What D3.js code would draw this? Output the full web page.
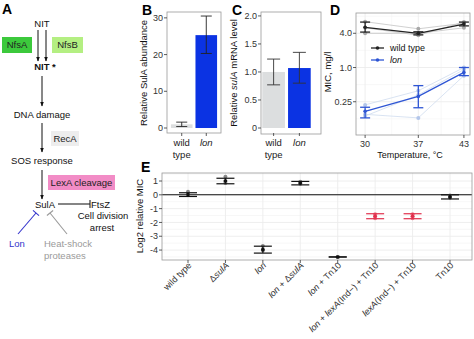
<!DOCTYPE html>
<html>
<head>
<meta charset="utf-8">
<script src="https://d3js.org/d3.v7.min.js"></script>
<style>
body { margin: 0; background: #fff; }
text { font-family: "Liberation Sans", Arial, Helvetica, sans-serif; }
</style>
</head>
<body>
<script>
// --- B: SulA protein abundance
var sulaGroups = ["wild type", "lon"];
var sulaAbundance = [1.0, 25.3];
var sulaLow = [0.4, 20.3];
var sulaHigh = [1.6, 30.5];
var sulaTicks = [0, 10, 20, 30];

// --- C: sulA mRNA level
var mrnaLevel = [1.0, 1.07];
var mrnaLow = [0.77, 0.8];
var mrnaHigh = [1.23, 1.35];
var mrnaTicks = [0, 0.5, 1.0, 1.5, 2.0];
var mrnaTickLabels = ["0", "0.5", "1.0", "1.5", "2.0"];

// --- D: MIC vs temperature
var temps = [30, 37, 43];
var wtMean = [5.1, 4.0, 5.8];
var wtLow = [4.2, 3.75, 5.4];
var wtHigh = [6.3, 4.25, 6.3];
var wtReps = [[6.4, 4.8, 6.0], [4.0, 4.0, 5.0], [5.0, 3.7, 6.3]];
var lonMean = [0.17, 0.31, 0.82];
var lonLow = [0.13, 0.196, 0.72];
var lonHigh = [0.2, 0.48, 1.0];
var lonReps = [[0.22, 0.39, 1.0], [0.14, 0.33, 0.92], [0.15, 0.13, 0.72]];
var micTicks = [0.25, 1, 4];
var micTickLabels = ["0.25", "1.0", "4.0"];

// --- E: log2 relative MIC per strain
var strains = ["wild type", "\u0394sulA", "lon", "lon + \u0394sulA", "lon + Tn10",
  "lon + lexA(Ind\u2212) + Tn10", "lexA(Ind\u2212) + Tn10", "Tn10"];
var log2Mic = [0.02, 1.0, -3.97, 0.85, -4.5, -1.55, -1.55, -0.15];
var log2Low = [-0.12, 0.8, -4.22, 0.72, -4.5, -1.73, -1.73, -0.3];
var log2High = [0.15, 1.2, -3.72, 0.97, -4.5, -1.37, -1.37, 0.0];
var log2Reps = [[0.22, 0.0, 0.0], [1.3, 1.0, 0.85], [-3.7, -4.0, -4.0], [0.95, 0.8, 0.85],
  [-4.5, -4.5, -4.5], [-1.4, -1.55, -1.7], [-1.4, -1.55, -1.7], [-0.05, -0.2, -0.2]];
var sosStrain = [false, false, false, false, false, true, true, false];
var log2Ticks = [-4, -3, -2, -1, 0, 1];

var svg = d3.select("body").append("svg")
  .attr("width", 474)
  .attr("height", 339);

var tickCol = "#333";
var borderCol = "#9a9a9a";
var gridCol = "#ececec";
var blue = "#0b33e3";

svg.append("defs").append("marker")
  .attr("id", "arrow")
  .attr("viewBox", "0 0 10 10")
  .attr("refX", 9).attr("refY", 5)
  .attr("markerWidth", 5).attr("markerHeight", 5)
  .attr("orient", "auto")
  .append("path").attr("d", "M0,1 L10,5 L0,9 Z").attr("fill", "#111");

function panelLabel(txt, x, y) {
  svg.append("text").attr("x", x).attr("y", y)
    .attr("font-size", "14px").attr("font-weight", "700").text(txt);
}

// italic gene names inside labels
function richText(sel, str) {
  str.split(/(lon|sulA|lexA)/).forEach(function(part) {
    if (!part) return;
    var t = sel.append("tspan").text(part);
    if (/^(lon|sulA|lexA)$/.test(part)) t.attr("font-style", "italic");
  });
}

function yTitle(x, y, parts) {
  var t = svg.append("text")
    .attr("transform", `translate(${x},${y}) rotate(-90)`)
    .attr("text-anchor", "middle")
    .attr("font-size", "9.5px")
    .attr("fill", "#111");
  parts.forEach(function(p) {
    var s = t.append("tspan").text(p[0]);
    if (p[1]) s.attr("font-style", "italic");
  });
}

function yAxis(scale, x, ticks, labels) {
  var g = svg.append("g");
  ticks.forEach(function(v, i) {
    var y = scale(v);
    g.append("line").attr("x1", x - 3).attr("x2", x).attr("y1", y).attr("y2", y)
      .attr("stroke", tickCol).attr("stroke-width", 0.8);
    g.append("text").attr("x", x - 4).attr("y", y + 3.2)
      .attr("text-anchor", "end").attr("font-size", "9px").attr("fill", tickCol)
      .text(labels ? labels[i] : String(v));
  });
}

function errorBar(g, x, lo, hi, half, color, w) {
  g.append("line").attr("x1", x).attr("x2", x).attr("y1", lo).attr("y2", hi)
    .attr("stroke", color).attr("stroke-width", w || 1);
  [lo, hi].forEach(function(y) {
    g.append("line").attr("x1", x - half).attr("x2", x + half).attr("y1", y).attr("y2", y)
      .attr("stroke", color).attr("stroke-width", w || 1);
  });
}

// ================= A: pathway diagram
panelLabel("A", 2, 14);
var gA = svg.append("g").attr("font-size", "9.5px");

function box(x, y, w, h, fill, label) {
  gA.append("rect").attr("x", x).attr("y", y).attr("width", w).attr("height", h).attr("fill", fill);
  gA.append("text").attr("x", x + w / 2).attr("y", y + h / 2 + 3.3)
    .attr("text-anchor", "middle").attr("fill", "#222").text(label);
}
function arrow(x, y1, y2) {
  gA.append("line").attr("x1", x).attr("x2", x).attr("y1", y1).attr("y2", y2)
    .attr("stroke", "#111").attr("stroke-width", 1).attr("marker-end", "url(#arrow)");
}
function label(x, y, txt, opts) {
  opts = opts || {};
  return gA.append("text").attr("x", x).attr("y", y)
    .attr("text-anchor", opts.anchor || "middle")
    .attr("font-weight", opts.bold ? "700" : "400")
    .attr("fill", opts.color || "#111").text(txt);
}
function inhibit(x1, y1, x2, y2, color) {
  gA.append("line").attr("x1", x1).attr("y1", y1).attr("x2", x2).attr("y2", y2)
    .attr("stroke", color).attr("stroke-width", 1.1);
  var dx = x2 - x1, dy = y2 - y1, len = Math.sqrt(dx * dx + dy * dy);
  var px = -dy / len * 4, py = dx / len * 4;
  gA.append("line").attr("x1", x2 - px).attr("y1", y2 - py).attr("x2", x2 + px).attr("y2", y2 + py)
    .attr("stroke", color).attr("stroke-width", 1.1);
}

label(42, 27, "NIT");
box(2, 37, 30, 16, "#3cc93c", "NfsA");
box(52, 37, 31, 16, "#b4ef82", "NfsB");
arrow(38, 30, 61);
arrow(46, 30, 61);
label(45, 70, "NIT *", { bold: true });
arrow(42, 76, 106);
label(42, 118, "DNA damage");
arrow(42, 123, 152);
box(51, 131, 28, 15, "#ededed", "RecA");
label(42, 164, "SOS response");
arrow(42, 170, 199);
box(48, 175, 67, 15, "#f28cc6", "LexA cleavage");
label(45, 208, "SulA");
inhibit(58, 204, 90, 204, "#222");
label(91, 208, "FtsZ", { anchor: "start" });
label(103, 219, "Cell division");
label(102, 231, "arrest");
inhibit(18, 234, 36, 213, "#3333cc");
label(9, 247, "Lon", { anchor: "start", color: "#3333cc" });
inhibit(67, 234, 50, 213, "#9a9a9a");
label(44, 247, "Heat-shock", { anchor: "start", color: "#9a9a9a" });
label(44, 259, "proteases", { anchor: "start", color: "#9a9a9a" });

// ================= B: SulA abundance bars
panelLabel("B", 142, 15);
var xB = d3.scaleBand().domain(sulaGroups).range([167, 221]).paddingInner(0.12).paddingOuter(0.16);
var yB = d3.scaleLinear().domain([-1.36, 31.6]).range([133, 12]);
var gB = svg.append("g");
gB.selectAll("rect.bar").data(sulaGroups).enter().append("rect")
  .attr("class", "bar")
  .attr("x", d => xB(d))
  .attr("width", xB.bandwidth())
  .attr("y", (d, i) => yB(sulaAbundance[i]))
  .attr("height", (d, i) => yB(0) - yB(sulaAbundance[i]))
  .attr("fill", (d, i) => i === 0 ? "#dcdedf" : blue);
sulaGroups.forEach(function(d, i) {
  errorBar(gB, xB(d) + xB.bandwidth() / 2, yB(sulaLow[i]), yB(sulaHigh[i]), 5.5, "#222", 0.9);
});
gB.append("rect").attr("x", 167).attr("y", 12).attr("width", 54).attr("height", 121)
  .attr("fill", "none").attr("stroke", borderCol).attr("stroke-width", 0.8);
yAxis(yB, 167, sulaTicks);
yTitle(147, 73, [["Relative SulA abundance", false]]);

function barXLabels(scale, groups) {
  groups.forEach(function(d) {
    var x = scale(d) + scale.bandwidth() / 2;
    svg.append("line").attr("x1", x).attr("x2", x).attr("y1", 133).attr("y2", 136)
      .attr("stroke", tickCol).attr("stroke-width", 0.8);
    if (d === "wild type") {
      svg.append("text").attr("x", x).attr("y", 146).attr("text-anchor", "middle")
        .attr("font-size", "9.5px").attr("fill", "#222").text("wild");
      svg.append("text").attr("x", x).attr("y", 158).attr("text-anchor", "middle")
        .attr("font-size", "9.5px").attr("fill", "#222").text("type");
    } else {
      svg.append("text").attr("x", x).attr("y", 146).attr("text-anchor", "middle")
        .attr("font-size", "9.5px").attr("font-style", "italic").attr("fill", "#222").text(d);
    }
  });
}
barXLabels(xB, sulaGroups);

// ================= C: sulA mRNA bars
panelLabel("C", 232, 15);
var xC = d3.scaleBand().domain(sulaGroups).range([261, 312]).paddingInner(0.12).paddingOuter(0.05);
var yC = d3.scaleLinear().domain([-0.107, 2.07]).range([134, 12]);
var gC = svg.append("g");
gC.selectAll("rect.bar").data(sulaGroups).enter().append("rect")
  .attr("class", "bar")
  .attr("x", d => xC(d))
  .attr("width", xC.bandwidth())
  .attr("y", (d, i) => yC(mrnaLevel[i]))
  .attr("height", (d, i) => yC(0) - yC(mrnaLevel[i]))
  .attr("fill", (d, i) => i === 0 ? "#dcdedf" : blue);
sulaGroups.forEach(function(d, i) {
  errorBar(gC, xC(d) + xC.bandwidth() / 2, yC(mrnaLow[i]), yC(mrnaHigh[i]), 6.5, "#333", 0.9);
});
gC.append("rect").attr("x", 261).attr("y", 12).attr("width", 60).attr("height", 122)
  .attr("fill", "none").attr("stroke", borderCol).attr("stroke-width", 0.8);
yAxis(yC, 261, mrnaTicks, mrnaTickLabels);
yTitle(237, 73, [["Relative ", false], ["sulA", true], [" mRNA level", false]]);
barXLabels(xC, sulaGroups);

// ================= D: MIC vs temperature
panelLabel("D", 330, 15);
var xD = d3.scaleLinear().domain([28.8, 43.8]).range([356, 470]);
var yD = d3.scaleLog().base(2).domain([0.065, 9.1]).range([135, 13]);
var gD = svg.append("g");
// grid
var minorY = [0.125, 0.5, 2, 8];
minorY.forEach(v => gD.append("line").attr("x1", 356).attr("x2", 470)
  .attr("y1", yD(v)).attr("y2", yD(v)).attr("stroke", "#f4f4f4").attr("stroke-width", 0.6));
[33.5, 40].forEach(v => gD.append("line").attr("y1", 13).attr("y2", 135)
  .attr("x1", xD(v)).attr("x2", xD(v)).attr("stroke", "#f4f4f4").attr("stroke-width", 0.6));
micTicks.forEach(v => gD.append("line").attr("x1", 356).attr("x2", 470)
  .attr("y1", yD(v)).attr("y2", yD(v)).attr("stroke", gridCol).attr("stroke-width", 0.9));
temps.forEach(v => gD.append("line").attr("y1", 13).attr("y2", 135)
  .attr("x1", xD(v)).attr("x2", xD(v)).attr("stroke", gridCol).attr("stroke-width", 0.9));

var lineD = d3.line().x((d, i) => xD(temps[i])).y(d => yD(d));
function drawSeries(reps, mean, lo, hi, repCol, repPt, col) {
  reps.forEach(function(r) {
    gD.append("path").attr("d", lineD(r)).attr("fill", "none")
      .attr("stroke", repCol).attr("stroke-width", 0.8);
    r.forEach((v, i) => gD.append("circle").attr("cx", xD(temps[i])).attr("cy", yD(v))
      .attr("r", 2).attr("fill", repPt));
  });
  gD.append("path").attr("d", lineD(mean)).attr("fill", "none")
    .attr("stroke", col).attr("stroke-width", 1.3);
  mean.forEach(function(v, i) {
    errorBar(gD, xD(temps[i]), yD(lo[i]), yD(hi[i]), 5, col, 1.3);
    gD.append("circle").attr("cx", xD(temps[i])).attr("cy", yD(v)).attr("r", 1.8).attr("fill", col);
  });
}
drawSeries(wtReps, wtMean, wtLow, wtHigh, "#c4c4c4", "#a8a8a8", "#222");
drawSeries(lonReps, lonMean, lonLow, lonHigh, "#cfdcef", "#b3c6ea", "#2e55d4");

gD.append("rect").attr("x", 356).attr("y", 13).attr("width", 114).attr("height", 122)
  .attr("fill", "none").attr("stroke", borderCol).attr("stroke-width", 0.8);
yAxis(yD, 356, micTicks, micTickLabels);
temps.forEach(function(v) {
  svg.append("line").attr("x1", xD(v)).attr("x2", xD(v)).attr("y1", 135).attr("y2", 138)
    .attr("stroke", tickCol).attr("stroke-width", 0.8);
  svg.append("text").attr("x", xD(v)).attr("y", 147).attr("text-anchor", "middle")
    .attr("font-size", "9px").attr("fill", tickCol).text(v);
});
svg.append("text").attr("x", 410).attr("y", 158).attr("text-anchor", "middle")
  .attr("font-size", "9px").attr("fill", "#111").text("Temperature, \u00b0C");
yTitle(331, 72, [["MIC, mg/l", false]]);

// legend
[["wild type", "#222", false], ["lon", "#2e55d4", true]].forEach(function(d, i) {
  var y = 48 + i * 12;
  svg.append("line").attr("x1", 371).attr("x2", 384).attr("y1", y).attr("y2", y)
    .attr("stroke", d[1]).attr("stroke-width", 1.3);
  svg.append("circle").attr("cx", 377.5).attr("cy", y).attr("r", 1.8).attr("fill", d[1]);
  svg.append("text").attr("x", 390).attr("y", y + 3.2).attr("font-size", "9px")
    .attr("font-style", d[2] ? "italic" : "normal").attr("fill", "#111").text(d[0]);
});

// ================= E: log2 relative MIC by strain
var eLeft = 162, eRight = 472, eTop = 173, eBottom = 260;
panelLabel("E", 141, 172);
var xE = d3.scalePoint().domain(strains).range([188, 450]);
var yE = d3.scaleLinear().domain([-4.72, 1.58]).range([eBottom, eTop]);
var gE = svg.append("g");
d3.range(-4.5, 1.6, 1).forEach(v => gE.append("line").attr("x1", eLeft).attr("x2", eRight)
  .attr("y1", yE(v)).attr("y2", yE(v)).attr("stroke", "#f2f2f2").attr("stroke-width", 0.6));
log2Ticks.forEach(v => gE.append("line").attr("x1", eLeft).attr("x2", eRight)
  .attr("y1", yE(v)).attr("y2", yE(v)).attr("stroke", gridCol).attr("stroke-width", 0.9));
strains.forEach(s => gE.append("line").attr("y1", eTop).attr("y2", eBottom)
  .attr("x1", xE(s)).attr("x2", xE(s)).attr("stroke", gridCol).attr("stroke-width", 0.9));
gE.append("line").attr("x1", eLeft).attr("x2", eRight).attr("y1", yE(0)).attr("y2", yE(0))
  .attr("stroke", "#111").attr("stroke-width", 1.1);

strains.forEach(function(s, i) {
  var x = xE(s);
  var col = sosStrain[i] ? "#e0304c" : "#111";
  var rep = sosStrain[i] ? "#ec7d8e" : "#8a8a8a";
  log2Reps[i].forEach(v => gE.append("circle").attr("cx", x).attr("cy", yE(v)).attr("r", 2)
    .attr("fill", rep));
  errorBar(gE, x, yE(log2Low[i]), yE(log2High[i]), 9, col, 1.2);
  gE.append("circle").attr("cx", x).attr("cy", yE(log2Mic[i])).attr("r", 1.8).attr("fill", col);
});

gE.append("rect").attr("x", eLeft).attr("y", eTop).attr("width", eRight - eLeft)
  .attr("height", eBottom - eTop)
  .attr("fill", "none").attr("stroke", borderCol).attr("stroke-width", 0.8);
yAxis(yE, eLeft, log2Ticks);
yTitle(143, 216, [["Log2 relative MIC", false]]);

strains.forEach(function(s) {
  var x = xE(s);
  svg.append("line").attr("x1", x).attr("x2", x).attr("y1", eBottom).attr("y2", eBottom + 3)
    .attr("stroke", tickCol).attr("stroke-width", 0.8);
  var t = svg.append("text")
    .attr("transform", `translate(${x + 4},${eBottom + 6}) rotate(-45)`)
    .attr("text-anchor", "end").attr("font-size", "9px").attr("fill", tickCol);
  richText(t, s);
});
</script>
</body>
</html>
